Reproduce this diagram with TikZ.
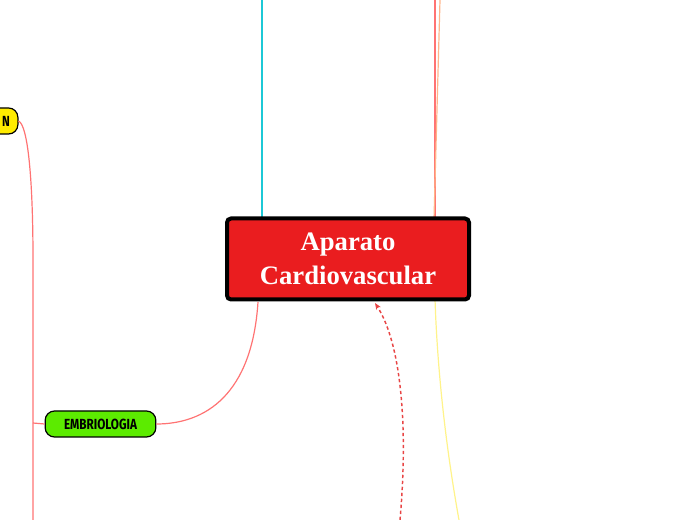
\documentclass[tikz,border=0pt]{standalone}
\usepackage{fontspec}
\setmainfont{Liberation Serif}
\newfontfamily\tagfont{Fira Sans}
\usetikzlibrary{arrows.meta}
\definecolor{boxred}{HTML}{EA1D1F}
\definecolor{embgreen}{HTML}{5CEB00}
\definecolor{tagyellow}{HTML}{FFEB00}
\definecolor{linecyan}{HTML}{1CC8D6}
\definecolor{linesalmon}{HTML}{FF7373}
\definecolor{lineorange}{HTML}{FFB58A}
\definecolor{lineyellow}{HTML}{FFF38A}
\definecolor{dashred}{HTML}{E84545}
\tikzset{
  mainbox/.style={draw=black, line width=3pt, fill=boxred, rounded corners=3pt,
    minimum height=60.75pt, text=white,
    align=center, font=\bfseries\fontsize{20}{26}\selectfont, inner sep=0pt},
  tagbox/.style={draw=black, line width=0.9pt, rounded corners=7pt,
    minimum height=19.5pt, inner sep=0pt, font=\tagfont\fontsize{11}{13}\selectfont},
  conn/.style={line width=0.9pt, linesalmon},
}
\begin{document}
\begin{tikzpicture}[x=0.75pt, y=-0.75pt]
\useasboundingbox (0,0) rectangle (697,520);
% free ends
\coordinate (tc) at (262,0);
\coordinate (ts) at (435,0);
\coordinate (to) at (440,0);
\coordinate (by) at (459,520);
\coordinate (bd) at (400,520);
\coordinate (bl) at (33,520);
\coordinate (lb) at (33,423);
% connectors behind the box
\draw[line width=0.9pt, linecyan] (tc) -- (262,219);
\draw[line width=0.9pt, linesalmon] (ts) -- (435,219);
\draw[line width=0.9pt, lineorange] (to) -- (434,219);
\draw[line width=0.9pt, lineyellow] (435,299) .. controls (438,390) and (450,470) .. (by);
% main box
\node[mainbox, minimum width=181.5pt] (main) at (348,259) {Aparato\\Cardiovascular};
% nodes
\node[tagbox, fill=embgreen, minimum width=83pt] (emb) at (100.5,424) {\textbf{\scalebox{0.8}[1]{EMBRIOLOGIA}}};
\node[tagbox, fill=tagyellow, minimum width=30pt, anchor=east] (yel) at (18.5,121) {\hspace*{12pt}\textbf{\scalebox{0.8}[1]{N}}};
% connectors
\draw[conn] (258,302) .. controls (252,395) and (205,424) .. (emb.east);
\draw[conn] (yel.east) .. controls (28,125) and (33,180) .. (33,260) -- (bl);
\draw[conn] (lb) -- (emb.west);
\draw[line width=1.1pt, dashred, dash pattern=on 2.5pt off 2pt, -{Stealth[length=5pt,width=4pt]}]
  (bd) .. controls (408,430) and (402,345) .. (375,303);
\end{tikzpicture}
\end{document}
